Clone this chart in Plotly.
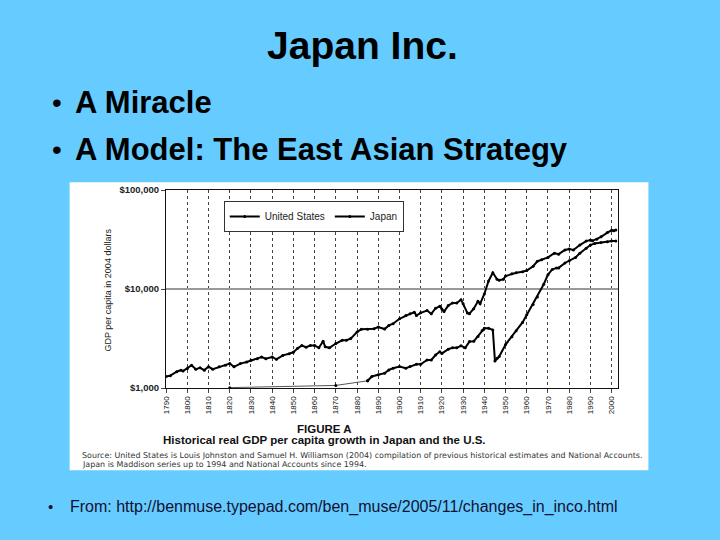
import plotly.graph_objects as go

# --- data (GDP per capita, 2004 dollars) ---
us_years = [1790, 1792, 1795, 1797, 1798, 1800, 1802, 1804, 1806, 1808, 1810, 1812, 1815, 1818,
            1820, 1822, 1825, 1828, 1830, 1833, 1835, 1837, 1840, 1842, 1845, 1848, 1850, 1852,
            1854, 1856, 1858, 1860, 1862, 1864, 1865, 1867, 1870, 1873, 1875, 1877, 1880, 1882,
            1885, 1888, 1890, 1893, 1895, 1897, 1900, 1903, 1905, 1907, 1908, 1910, 1913, 1915,
            1917, 1919, 1920, 1921, 1923, 1925, 1927, 1929, 1930, 1932, 1933, 1935, 1937, 1938,
            1940, 1942, 1944, 1946, 1947, 1949, 1950, 1953, 1955, 1958, 1960, 1963, 1965, 1967,
            1970, 1973, 1975, 1978, 1980, 1982, 1985, 1988, 1990, 1991, 1993, 1995, 1998, 2000,
            2001, 2002]
us_gdp = [1306, 1335, 1463, 1517, 1483, 1578, 1702, 1552, 1603, 1517, 1640, 1552, 1640, 1702,
          1768, 1640, 1768, 1837, 1906, 1981, 2060, 1981, 2060, 1950, 2138, 2221, 2307, 2529,
          2685, 2588, 2685, 2685, 2551, 2973, 2610, 2551, 2818, 3043, 3043, 3162, 3690, 3920,
          3920, 3981, 4140, 3950, 4300, 4467, 5012, 5410, 5623, 5843, 5410, 5754, 6070, 5623,
          6410, 6711, 6310, 5930, 6813, 7244, 7244, 7822, 7100, 5740, 5650, 6340, 7550, 7100,
          8920, 12100, 14630, 12560, 12280, 12560, 13550, 14290, 14630, 14960, 15420, 17020, 19070, 19820,
          20900, 23070, 22550, 24890, 25480, 24890, 27890, 30550, 31260, 30780, 31980, 33730, 37250, 39270,
          39000, 39560]

# Japan: benchmark years before the annual series starts
jp_early_years = [1820, 1870, 1885]
jp_early_gdp = [1010, 1063, 1184]

jp_years = [1885, 1887, 1890, 1893, 1895, 1897, 1900, 1903, 1905, 1908, 1910, 1913, 1915, 1917,
            1919, 1920, 1923, 1925, 1927, 1929, 1931, 1933, 1935, 1937, 1939, 1940, 1942, 1944,
            1945, 1946, 1947, 1950, 1953, 1955, 1958, 1960, 1963, 1965, 1968, 1970, 1972, 1974,
            1975, 1978, 1980, 1983, 1985, 1988, 1990, 1992, 1995, 1998, 2000, 2002]
jp_gdp = [1184, 1308, 1360, 1413, 1525, 1585, 1647, 1585, 1647, 1738, 1738, 1920, 1920, 2154,
          2327, 2239, 2473, 2551, 2551, 2671, 2551, 2950, 2965, 3322, 3811, 4018, 4018, 3868,
          1880, 2000, 2080, 2750, 3300, 3800, 4600, 5500, 7000, 8300, 11200, 14000, 15790, 16390,
          16390, 18370, 19360, 20890, 23060, 25850, 27890, 28970, 29650, 30100, 30560, 30560]

decade_ticks = [1790, 1800, 1810, 1820, 1830, 1840, 1850, 1860, 1870, 1880, 1890, 1900, 1910,
                1920, 1930, 1940, 1950, 1960, 1970, 1980, 1990, 2000]
y_ticks = [1000, 10000, 100000]
y_labels = ["$1,000", "$10,000", "$100,000"]

W, H = 720, 540
FONT = "Liberation Sans"


def px(x):
    return x / W


def py(y):
    return 1 - y / H


fig = go.Figure()
fig.add_trace(go.Scatter(x=us_years, y=us_gdp, mode="lines+markers", name="United States",
                         line=dict(color="black", width=2), marker=dict(size=3, color="black")))
fig.add_trace(go.Scatter(x=jp_early_years, y=jp_early_gdp, mode="lines+markers", showlegend=False,
                         line=dict(color="#555", width=1), marker=dict(size=3, color="black")))
fig.add_trace(go.Scatter(x=jp_years, y=jp_gdp, mode="lines+markers", name="Japan",
                         line=dict(color="black", width=2), marker=dict(size=3, color="black")))

# white picture panel on the slide
fig.add_shape(type="rect", xref="paper", yref="paper", x0=px(66), x1=px(648), y0=py(474), y1=py(180),
              fillcolor="white", line=dict(width=0), layer="below")

ann = []
ann.append(dict(text="<b>Japan Inc.</b>", x=0.5, y=py(40), font=dict(size=39, color="black")))
ann.append(dict(text="•", x=px(46), y=py(99), xanchor="left", font=dict(size=28, color="black")))
ann.append(dict(text="<b>A Miracle</b>", x=px(69), y=py(99), xanchor="left",
                font=dict(size=31, color="black")))
ann.append(dict(text="•", x=px(46), y=py(146), xanchor="left", font=dict(size=28, color="black")))
ann.append(dict(text="<b>A Model: The East Asian Strategy</b>", x=px(69), y=py(146), xanchor="left",
                font=dict(size=31, color="black")))
ann.append(dict(text="•", x=px(42), y=py(511), xanchor="left", font=dict(size=15, color="#111133")))
ann.append(dict(text="From: http://benmuse.typepad.com/ben_muse/2005/11/changes_in_inco.html",
                x=px(64), y=py(511), xanchor="left", font=dict(size=16, color="#111133")))
ann.append(dict(text="GDP per capita in 2004 dollars", x=px(105), y=py(290), textangle=-90,
                font=dict(size=9, color="#222")))
ann.append(dict(text="<b>FIGURE A</b>", x=px(322), y=py(432), font=dict(size=11.5, color="#111")))
ann.append(dict(text="<b>Historical real GDP per capita growth in Japan and the U.S.</b>",
                x=px(322), y=py(443), font=dict(size=11.5, color="#111")))
ann.append(dict(text="Source: United States is Louis Johnston and Samuel H. Williamson (2004) compilation "
                     "of previous historical estimates and National Accounts.",
                x=px(76), y=py(459), xanchor="left",
                font=dict(family="DejaVu Sans", size=7.95, color="#333")))
ann.append(dict(text="Japan is Maddison series up to 1994 and National Accounts since 1994.",
                x=px(76), y=py(468.5), xanchor="left",
                font=dict(family="DejaVu Sans", size=7.95, color="#333")))
for a in ann:
    a.setdefault("xref", "paper")
    a.setdefault("yref", "paper")
    a.setdefault("showarrow", False)
    a.setdefault("xanchor", "center")
    a.setdefault("yanchor", "middle")
fig.update_layout(annotations=ann)

fig.update_layout(
    width=W, height=H,
    margin=dict(l=0, r=0, t=0, b=0),
    paper_bgcolor="#66CCFF",
    plot_bgcolor="white",
    font=dict(family=FONT, color="black"),
    legend=dict(x=px(221), y=py(199), xanchor="left", yanchor="top", orientation="h",
                bgcolor="white", bordercolor="#333", borderwidth=1,
                font=dict(size=10, color="#222"), itemwidth=30),
    xaxis=dict(domain=[px(163), px(617)], range=[1790, 2002.8], tickvals=decade_ticks,
               tickangle=-90, tickfont=dict(size=8, color="#111"), ticks="outside", ticklen=4,
               showgrid=True, gridcolor="#444", griddash="dot", gridwidth=1,
               showline=True, linecolor="#111", linewidth=1.3, mirror=True, zeroline=False),
    yaxis=dict(domain=[py(390), py(188)], type="log", range=[3, 5], tickvals=y_ticks,
               ticktext=["<b>%s</b>" % t for t in y_labels], tickfont=dict(size=9.5, color="#222"),
               ticks="outside", ticklen=4, showgrid=True, gridcolor="#999", gridwidth=1.5,
               showline=True, linecolor="#111", linewidth=1.3, mirror=True, zeroline=False),
)

fig.write_html("out.html", config={"displayModeBar": False},
               post_script="document.body.style.margin='0px';")
